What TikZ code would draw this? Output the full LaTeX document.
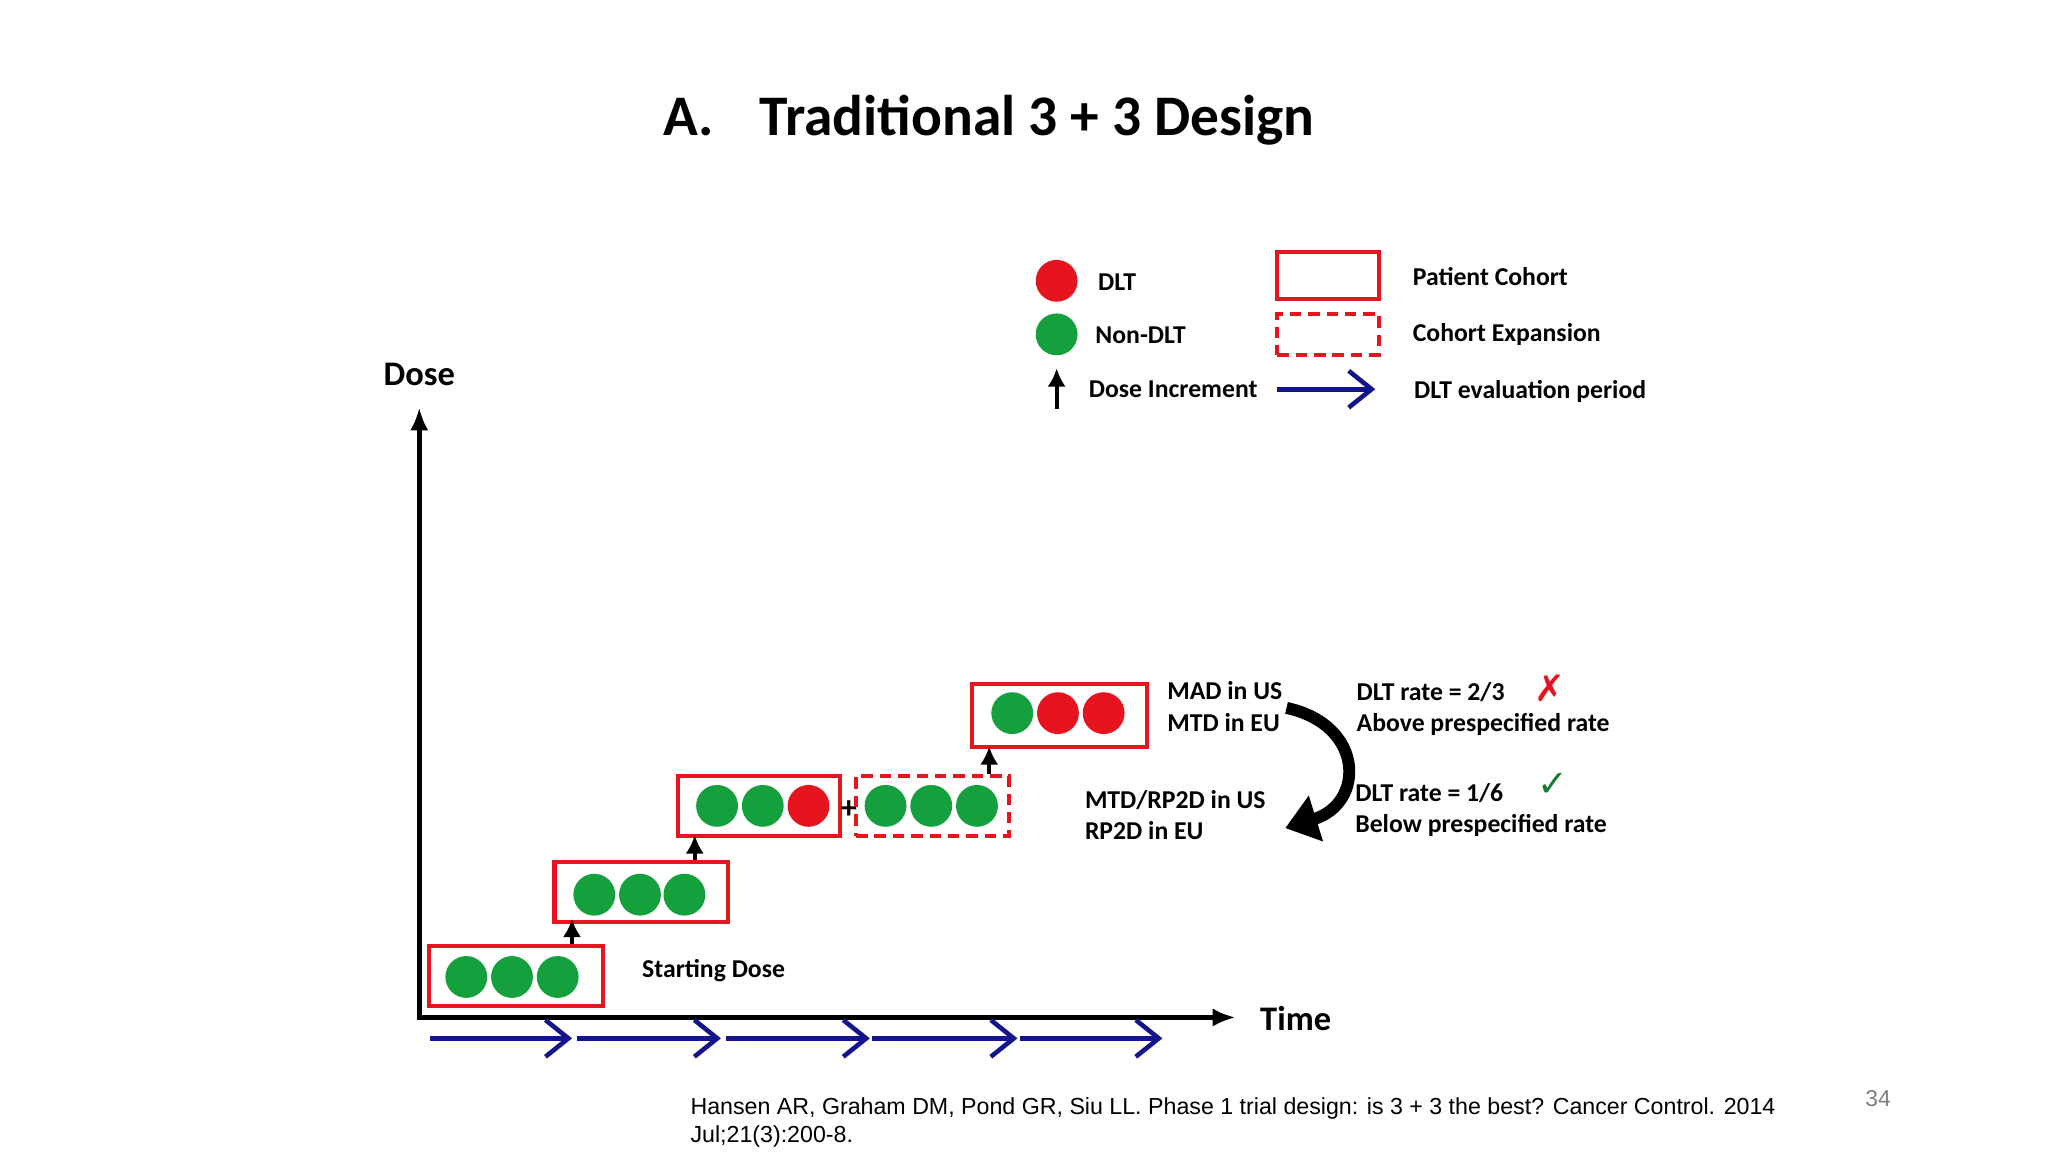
\documentclass[tikz,border=0pt]{standalone}
\usepackage{fontspec}
\setmainfont{Carlito}
\newfontfamily\lib{Liberation Sans}
\newfontfamily\djv{DejaVu Sans}
\usetikzlibrary{arrows.meta}
\definecolor{dred}{RGB}{230,20,30}
\definecolor{dgreen}{RGB}{20,160,60}
\definecolor{dblue}{RGB}{20,20,140}
\begin{document}
\begin{tikzpicture}[x=0.01cm,y=-0.01cm,
  lt/.style={font=\fontsize{5.6}{6.5}\selectfont\bfseries,anchor=west,inner sep=0},
  tl/.style={lt,align=left,font=\fontsize{5.6}{6.8}\selectfont\bfseries},
  cohort/.style={draw=dred,line width=0.9pt,minimum width=133*0.01cm,minimum height=46*0.01cm,inner sep=0},
  exp/.style={cohort,dashed,dash pattern=on 2.5pt off 1.5pt},
  g/.style={fill=dgreen,circle,minimum size=0.32cm,inner sep=0},
  r/.style={fill=dred,circle,minimum size=0.32cm,inner sep=0},
  inc/.style={-{Latex[length=4pt,width=4pt]},line width=0.9pt},
  ev/.style={-{Straight Barb[length=5pt,width=8pt]},draw=dblue,line width=1pt}]
\useasboundingbox (0,0) rectangle (1568,882);
\fill[white] (0,0) rectangle (1568,882);
\node[font=\fontsize{12.5}{14}\selectfont\bfseries] (title) at (757,92) {A.\hspace{0.8em}Traditional 3 + 3 Design};
% legend
\node[r] (lr) at (809,215) {}; \node[lt] (lrt) at (840,216) {DLT};
\node[g] (lg) at (809,256) {}; \node[lt] (lgt) at (838,257) {Non-DLT};
\coordinate (la1) at (809,313); \coordinate (la2) at (809,282);
\draw[inc] (la1) -- (la2); \node[lt] (lat) at (833,298) {Dose Increment};
\node[cohort,minimum width=0.78cm,minimum height=0.36cm] (lc) at (1017,211) {}; \node[lt] (lct) at (1081,212) {Patient Cohort};
\node[exp,minimum width=0.78cm,minimum height=0.31cm] (le) at (1017,256) {}; \node[lt] (let) at (1081,256) {Cohort Expansion};
\coordinate (lb1) at (978,298); \coordinate (lb2) at (1053,298);
\draw[ev] (lb1) -- (lb2); \node[lt] (lbt) at (1082,300) {DLT evaluation period};
% axes
\coordinate (o) at (321,779); \coordinate (yt) at (321,312); \coordinate (xt) at (946,779);
\draw[line width=1pt,-{Latex[length=5pt,width=4pt]}] (321,781) -- (yt);
\draw[line width=1pt,-{Latex[length=5pt,width=4pt]}] (320,779) -- (xt);
\node[font=\fontsize{7.5}{9}\selectfont\bfseries] (dose) at (321,287) {Dose};
\node[font=\fontsize{7.5}{9}\selectfont\bfseries] (time) at (992,780) {Time};
% cohorts
\node[cohort] (b1) at (395,747) {};
\node[g] (c11) at (357,748) {}; \node[g] (c12) at (392,748) {}; \node[g] (c13) at (427,748) {};
\node[lt] (sd) at (491,743) {Starting Dose};
\node[cohort] (b2) at (491,683) {};
\node[g] (c21) at (455,685) {}; \node[g] (c22) at (490,685) {}; \node[g] (c23) at (524,685) {};
\node[cohort,minimum width=1.24cm] (b3) at (581,617) {};
\node[g] (c31) at (549,617) {}; \node[g] (c32) at (584,617) {}; \node[r] (c33) at (619,617) {};
\node[font=\fontsize{7}{8}\selectfont\bfseries] (plus) at (650,620) {+};
\node[exp,minimum width=1.17cm] (b4) at (714,617) {};
\node[g] (c41) at (678,617) {}; \node[g] (c42) at (713,617) {}; \node[g] (c43) at (748,617) {};
\node[cohort,minimum width=1.34cm,minimum height=0.48cm] (b5) at (811,548) {};
\node[g] (c51) at (775,546) {}; \node[r] (c52) at (810,546) {}; \node[r] (c53) at (845,546) {};
\draw[inc] (b1.north west) ++(111,0) coordinate (a1) -- ++(0,-19);
\draw[inc] (b2.north west) ++(109,0) coordinate (a2) -- ++(0,-19);
\draw[inc] (b3.north west) ++(240,0) coordinate (a3) -- ++(0,-21);
% labels
\node[tl] (mad) at (893,541) {MAD in US\\MTD in EU};
\node[tl] (mtd) at (830,624) {MTD/RP2D in US\\RP2D in EU};
\coordinate (cs) at (985,542); \coordinate (ce) at (984,634);
\draw[line width=2.6pt,-{Triangle[length=7pt,width=10pt]}] (cs) .. controls (1045,555) and (1045,615) .. (ce);
\node[tl] (above) at (1038,543) {DLT rate = 2/3\\Above prespecified rate};
\node[tl] (below) at (1037,620) {DLT rate = 1/6\\Below prespecified rate};
\node[text=dred,font=\djv\fontsize{8}{9}\selectfont] (x) at (1187,527) {✗};
\node[text=dgreen!80!black,font=\djv\fontsize{8}{9}\selectfont] (ck) at (1189,601) {✓};
% evaluation arrows
\coordinate (e0) at (329,795); \coordinate (e1) at (438,795);
\coordinate (e1b) at (442,795); \coordinate (e2) at (552,795);
\coordinate (e2b) at (556,795); \coordinate (e3) at (666,795);
\coordinate (e3b) at (668,795); \coordinate (e4) at (779,795);
\coordinate (e4b) at (781,795); \coordinate (e5) at (890,795);
\draw[ev] (e0) -- (e1); \draw[ev] (e1b) -- (e2); \draw[ev] (e2b) -- (e3); \draw[ev] (e3b) -- (e4); \draw[ev] (e4b) -- (e5);
% citation
\node[anchor=north west,inner sep=0,align=left,font=\lib\fontsize{5.05}{6}\selectfont] (cite) at (528,840) {Hansen AR, Graham DM, Pond GR, Siu LL. Phase 1 trial design: is 3 + 3 the best? Cancer Control. 2014\\Jul;21(3):200-8.};
\node[text=gray,font=\lib\fontsize{5}{6}\selectfont] (pg) at (1438,841) {34};
\end{tikzpicture}
\end{document}
